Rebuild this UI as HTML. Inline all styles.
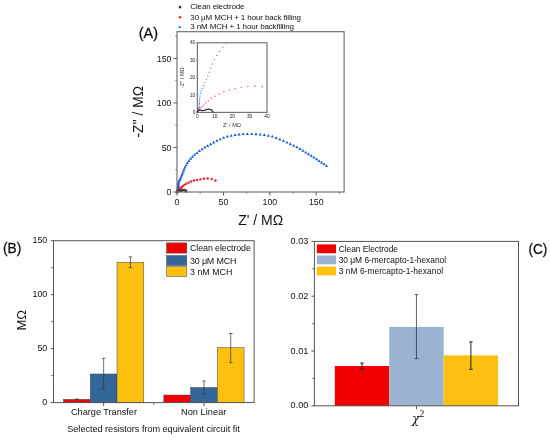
<!DOCTYPE html>
<html><head><meta charset="utf-8"><title>Figure</title>
<style>html,body{margin:0;padding:0;background:#fff}svg{display:block}</style></head>
<body>
<svg width="550" height="440" viewBox="0 0 550 440" font-family="&quot;Liberation Sans&quot;, sans-serif" fill="#111">
<rect width="550" height="440" fill="#fff"/>
<path d="M173.5 192H177.0M177 192.0V195.5" stroke="#555" stroke-width="1"/>
<text x="171.5" y="195.1" font-size="8.8" text-anchor="end">0</text>
<text x="177" y="205.0" font-size="8.8" text-anchor="middle">0</text>
<path d="M173.5 147.47H177.0M223.42 192.0V195.5" stroke="#555" stroke-width="1"/>
<text x="171.5" y="150.57" font-size="8.8" text-anchor="end">50</text>
<text x="223.42" y="205.0" font-size="8.8" text-anchor="middle">50</text>
<path d="M173.5 102.94H177.0M269.83 192.0V195.5" stroke="#555" stroke-width="1"/>
<text x="171.5" y="106.04" font-size="8.8" text-anchor="end">100</text>
<text x="269.83" y="205.0" font-size="8.8" text-anchor="middle">100</text>
<path d="M173.5 58.42H177.0M316.25 192.0V195.5" stroke="#555" stroke-width="1"/>
<text x="171.5" y="61.52" font-size="8.8" text-anchor="end">150</text>
<text x="316.25" y="205.0" font-size="8.8" text-anchor="middle">150</text>
<path d="M175.4 169.74H177.0M200.21 192.0V193.6" stroke="#777" stroke-width="1"/>
<path d="M175.4 125.21H177.0M246.62 192.0V193.6" stroke="#777" stroke-width="1"/>
<path d="M175.4 80.68H177.0M293.04 192.0V193.6" stroke="#777" stroke-width="1"/>
<path d="M175.4 36.15H177.0M339.46 192.0V193.6" stroke="#777" stroke-width="1"/>
<text x="260.7" y="225.3" font-size="14" text-anchor="middle">Z' / MΩ</text>
<text transform="translate(143.2 111.8) rotate(-90)" font-size="13.8" text-anchor="middle">-Z'' / MΩ</text>
<path d="M177 190.45L178.55 193.24H175.45Z" fill="#1d5cd9"/>
<path d="M177.1 190.17L178.65 192.96H175.55Z" fill="#1d5cd9"/>
<path d="M177.21 189.85L178.76 192.64H175.66Z" fill="#1d5cd9"/>
<path d="M177.33 189.51L178.88 192.3H175.78Z" fill="#1d5cd9"/>
<path d="M177.46 189.13L179.01 191.92H175.91Z" fill="#1d5cd9"/>
<path d="M177.62 188.72L179.17 191.51H176.07Z" fill="#1d5cd9"/>
<path d="M177.81 188.27L179.36 191.06H176.26Z" fill="#1d5cd9"/>
<path d="M177.95 187.77L179.5 190.56H176.4Z" fill="#1d5cd9"/>
<path d="M178.03 187.19L179.58 189.98H176.48Z" fill="#1d5cd9"/>
<path d="M178.08 186.55L179.63 189.34H176.53Z" fill="#1d5cd9"/>
<path d="M178.13 185.82L179.68 188.61H176.58Z" fill="#1d5cd9"/>
<path d="M178.18 185L179.73 187.79H176.63Z" fill="#1d5cd9"/>
<path d="M178.23 184.1L179.78 186.89H176.68Z" fill="#1d5cd9"/>
<path d="M178.29 183.09L179.84 185.88H176.74Z" fill="#1d5cd9"/>
<path d="M178.41 181.97L179.96 184.76H176.86Z" fill="#1d5cd9"/>
<path d="M178.64 180.73L180.19 183.52H177.09Z" fill="#1d5cd9"/>
<path d="M179.06 179.42L180.61 182.21H177.51Z" fill="#1d5cd9"/>
<path d="M179.75 178.13L181.3 180.92H178.2Z" fill="#1d5cd9"/>
<path d="M180.41 176.71L181.96 179.5H178.86Z" fill="#1d5cd9"/>
<path d="M181.11 175.17L182.66 177.96H179.56Z" fill="#1d5cd9"/>
<path d="M181.8 173.49L183.35 176.28H180.25Z" fill="#1d5cd9"/>
<path d="M182.62 171.73L184.17 174.52H181.07Z" fill="#1d5cd9"/>
<path d="M183.38 169.8L184.93 172.59H181.83Z" fill="#1d5cd9"/>
<path d="M184.1 167.73L185.65 170.52H182.55Z" fill="#1d5cd9"/>
<path d="M185.03 165.62L186.58 168.41H183.48Z" fill="#1d5cd9"/>
<path d="M186.1 163.45L187.65 166.24H184.55Z" fill="#1d5cd9"/>
<path d="M187.37 161.26L188.92 164.05H185.82Z" fill="#1d5cd9"/>
<path d="M188.97 159.16L190.52 161.95H187.42Z" fill="#1d5cd9"/>
<path d="M190.61 156.99L192.16 159.78H189.06Z" fill="#1d5cd9"/>
<path d="M192.5 154.92L194.05 157.71H190.95Z" fill="#1d5cd9"/>
<path d="M194.63 153L196.18 155.79H193.08Z" fill="#1d5cd9"/>
<path d="M196.96 151.13L198.51 153.92H195.41Z" fill="#1d5cd9"/>
<path d="M199.44 149.32L200.99 152.11H197.89Z" fill="#1d5cd9"/>
<path d="M202.03 147.54L203.58 150.33H200.48Z" fill="#1d5cd9"/>
<path d="M204.78 145.81L206.33 148.6H203.23Z" fill="#1d5cd9"/>
<path d="M207.66 144.1L209.21 146.89H206.11Z" fill="#1d5cd9"/>
<path d="M210.64 142.37L212.19 145.16H209.09Z" fill="#1d5cd9"/>
<path d="M213.72 140.64L215.27 143.43H212.17Z" fill="#1d5cd9"/>
<path d="M216.92 138.98L218.47 141.77H215.37Z" fill="#1d5cd9"/>
<path d="M220.24 137.39L221.79 140.18H218.69Z" fill="#1d5cd9"/>
<path d="M223.69 135.89L225.24 138.68H222.14Z" fill="#1d5cd9"/>
<path d="M227.31 134.77L228.86 137.56H225.76Z" fill="#1d5cd9"/>
<path d="M231.13 133.97L232.68 136.76H229.58Z" fill="#1d5cd9"/>
<path d="M235.07 133.31L236.62 136.1H233.52Z" fill="#1d5cd9"/>
<path d="M239.08 132.6L240.63 135.39H237.53Z" fill="#1d5cd9"/>
<path d="M243.19 132.21L244.74 135H241.64Z" fill="#1d5cd9"/>
<path d="M247.4 132.21L248.95 135H245.85Z" fill="#1d5cd9"/>
<path d="M251.7 132.21L253.25 135H250.15Z" fill="#1d5cd9"/>
<path d="M255.96 132.34L257.51 135.13H254.41Z" fill="#1d5cd9"/>
<path d="M260.19 132.72L261.74 135.51H258.64Z" fill="#1d5cd9"/>
<path d="M264.35 133.26L265.9 136.05H262.8Z" fill="#1d5cd9"/>
<path d="M268.41 133.92L269.96 136.71H266.86Z" fill="#1d5cd9"/>
<path d="M272.33 134.8L273.88 137.59H270.78Z" fill="#1d5cd9"/>
<path d="M276.13 136.25L277.68 139.04H274.58Z" fill="#1d5cd9"/>
<path d="M279.85 137.83L281.4 140.62H278.3Z" fill="#1d5cd9"/>
<path d="M283.48 139.3L285.03 142.09H281.93Z" fill="#1d5cd9"/>
<path d="M287.01 140.81L288.56 143.6H285.46Z" fill="#1d5cd9"/>
<path d="M290.42 142.34L291.97 145.13H288.87Z" fill="#1d5cd9"/>
<path d="M293.72 143.9L295.27 146.69H292.17Z" fill="#1d5cd9"/>
<path d="M296.88 145.55L298.43 148.34H295.33Z" fill="#1d5cd9"/>
<path d="M299.93 147.23L301.48 150.02H298.38Z" fill="#1d5cd9"/>
<path d="M302.87 148.94L304.42 151.73H301.32Z" fill="#1d5cd9"/>
<path d="M305.73 150.65L307.28 153.44H304.18Z" fill="#1d5cd9"/>
<path d="M308.51 152.36L310.06 155.15H306.96Z" fill="#1d5cd9"/>
<path d="M311.25 154.07L312.8 156.86H309.7Z" fill="#1d5cd9"/>
<path d="M313.93 155.76L315.48 158.55H312.38Z" fill="#1d5cd9"/>
<path d="M316.55 157.46L318.1 160.25H315Z" fill="#1d5cd9"/>
<path d="M319.13 159.15L320.68 161.94H317.58Z" fill="#1d5cd9"/>
<path d="M321.65 160.85L323.2 163.64H320.1Z" fill="#1d5cd9"/>
<path d="M324.12 162.55L325.67 165.34H322.57Z" fill="#1d5cd9"/>
<path d="M326.54 164.25L328.09 167.04H324.99Z" fill="#1d5cd9"/>
<circle cx="177" cy="192" r="1.2" fill="#ee1c2c"/>
<circle cx="177.16" cy="191.63" r="1.2" fill="#ee1c2c"/>
<circle cx="177.4" cy="191.21" r="1.2" fill="#ee1c2c"/>
<circle cx="177.75" cy="190.77" r="1.2" fill="#ee1c2c"/>
<circle cx="178.27" cy="190.31" r="1.2" fill="#ee1c2c"/>
<circle cx="178.89" cy="189.74" r="1.2" fill="#ee1c2c"/>
<circle cx="179.6" cy="189.05" r="1.2" fill="#ee1c2c"/>
<circle cx="180.47" cy="188.23" r="1.2" fill="#ee1c2c"/>
<circle cx="181.52" cy="187.26" r="1.2" fill="#ee1c2c"/>
<circle cx="182.79" cy="186.1" r="1.2" fill="#ee1c2c"/>
<circle cx="184.38" cy="184.83" r="1.2" fill="#ee1c2c"/>
<circle cx="186.38" cy="183.75" r="1.2" fill="#ee1c2c"/>
<circle cx="188.65" cy="182.64" r="1.2" fill="#ee1c2c"/>
<circle cx="191.16" cy="181.41" r="1.2" fill="#ee1c2c"/>
<circle cx="194.02" cy="180.56" r="1.2" fill="#ee1c2c"/>
<circle cx="197.12" cy="179.92" r="1.2" fill="#ee1c2c"/>
<circle cx="200.41" cy="179.33" r="1.2" fill="#ee1c2c"/>
<circle cx="203.92" cy="178.82" r="1.2" fill="#ee1c2c"/>
<circle cx="207.67" cy="178.56" r="1.2" fill="#ee1c2c"/>
<circle cx="211.64" cy="178.91" r="1.2" fill="#ee1c2c"/>
<circle cx="215.39" cy="180.57" r="1.2" fill="#ee1c2c"/>
<rect x="176.7" y="190.5" width="2" height="2" fill="#454545"/>
<rect x="176.83" y="190.15" width="2" height="2" fill="#454545"/>
<rect x="177.01" y="189.85" width="2" height="2" fill="#454545"/>
<rect x="177.23" y="189.65" width="2" height="2" fill="#454545"/>
<rect x="177.52" y="189.49" width="2" height="2" fill="#454545"/>
<rect x="177.87" y="189.37" width="2" height="2" fill="#454545"/>
<rect x="178.2" y="189.35" width="2" height="2" fill="#454545"/>
<rect x="178.53" y="189.41" width="2" height="2" fill="#454545"/>
<rect x="178.87" y="189.5" width="2" height="2" fill="#454545"/>
<rect x="179.2" y="189.58" width="2" height="2" fill="#454545"/>
<rect x="179.54" y="189.61" width="2" height="2" fill="#454545"/>
<rect x="179.87" y="189.58" width="2" height="2" fill="#454545"/>
<rect x="180.21" y="189.51" width="2" height="2" fill="#454545"/>
<rect x="180.54" y="189.42" width="2" height="2" fill="#454545"/>
<rect x="180.87" y="189.34" width="2" height="2" fill="#454545"/>
<rect x="181.2" y="189.26" width="2" height="2" fill="#454545"/>
<rect x="181.53" y="189.16" width="2" height="2" fill="#454545"/>
<rect x="181.86" y="189.05" width="2" height="2" fill="#454545"/>
<rect x="182.19" y="188.97" width="2" height="2" fill="#454545"/>
<rect x="182.52" y="188.91" width="2" height="2" fill="#454545"/>
<rect x="182.85" y="188.9" width="2" height="2" fill="#454545"/>
<rect x="183.2" y="188.95" width="2" height="2" fill="#454545"/>
<rect x="183.54" y="189.03" width="2" height="2" fill="#454545"/>
<rect x="183.87" y="189.14" width="2" height="2" fill="#454545"/>
<rect x="184.16" y="189.27" width="2" height="2" fill="#454545"/>
<rect x="184.41" y="189.46" width="2" height="2" fill="#454545"/>
<rect x="184.63" y="189.72" width="2" height="2" fill="#454545"/>
<rect x="184.86" y="190.01" width="2" height="2" fill="#454545"/>
<rect x="185.09" y="190.27" width="2" height="2" fill="#454545"/>
<rect x="185.33" y="190.5" width="2" height="2" fill="#454545"/>
<rect x="177.0" y="31.7" width="167.1" height="160.3" fill="none" stroke="#686868" stroke-width="1.1"/>
<rect x="197.3" y="42.8" width="69.7" height="69.5" fill="#fff" stroke="#4a4a4a" stroke-width="0.9"/>
<path d="M195.8 112.3H197.3M197.3 112.3V113.8" stroke="#666" stroke-width="0.6"/>
<text x="195.3" y="113.9" font-size="4.8" text-anchor="end" fill="#222">0</text>
<text x="197.3" y="117.89999999999999" font-size="4.8" text-anchor="middle" fill="#222">0</text>
<path d="M195.8 94.92H197.3M214.73 112.3V113.8" stroke="#666" stroke-width="0.6"/>
<text x="195.3" y="96.52" font-size="4.8" text-anchor="end" fill="#222">10</text>
<text x="214.73" y="117.89999999999999" font-size="4.8" text-anchor="middle" fill="#222">10</text>
<path d="M195.8 77.55H197.3M232.15 112.3V113.8" stroke="#666" stroke-width="0.6"/>
<text x="195.3" y="79.15" font-size="4.8" text-anchor="end" fill="#222">20</text>
<text x="232.15" y="117.89999999999999" font-size="4.8" text-anchor="middle" fill="#222">20</text>
<path d="M195.8 60.17H197.3M249.57 112.3V113.8" stroke="#666" stroke-width="0.6"/>
<text x="195.3" y="61.77" font-size="4.8" text-anchor="end" fill="#222">30</text>
<text x="249.57" y="117.89999999999999" font-size="4.8" text-anchor="middle" fill="#222">30</text>
<path d="M195.8 42.8H197.3M267 112.3V113.8" stroke="#666" stroke-width="0.6"/>
<text x="195.3" y="44.4" font-size="4.8" text-anchor="end" fill="#222">40</text>
<text x="267" y="117.89999999999999" font-size="4.8" text-anchor="middle" fill="#222">40</text>
<text x="232" y="126.5" font-size="5.6" text-anchor="middle" fill="#333">Z' / MΩ</text>
<text transform="translate(184.0 77.7) rotate(-90)" font-size="5.6" text-anchor="middle" fill="#333">-Z'' / MΩ</text>
<path d="M197.3 111.5L198.1 112.94H196.5Z" fill="#2f7be6"/>
<path d="M197.48 110.95L198.28 112.39H196.68Z" fill="#2f7be6"/>
<path d="M197.69 110.34L198.49 111.78H196.89Z" fill="#2f7be6"/>
<path d="M197.91 109.67L198.71 111.11H197.11Z" fill="#2f7be6"/>
<path d="M198.16 108.93L198.96 110.37H197.36Z" fill="#2f7be6"/>
<path d="M198.46 108.13L199.26 109.57H197.66Z" fill="#2f7be6"/>
<path d="M198.81 107.25L199.61 108.69H198.01Z" fill="#2f7be6"/>
<path d="M199.09 106.26L199.89 107.7H198.29Z" fill="#2f7be6"/>
<path d="M199.22 105.15L200.02 106.59H198.42Z" fill="#2f7be6"/>
<path d="M199.33 103.88L200.13 105.32H198.53Z" fill="#2f7be6"/>
<path d="M199.42 102.46L200.22 103.9H198.62Z" fill="#2f7be6"/>
<path d="M199.51 100.88L200.31 102.32H198.71Z" fill="#2f7be6"/>
<path d="M199.6 99.11L200.4 100.55H198.8Z" fill="#2f7be6"/>
<path d="M199.73 97.14L200.53 98.58H198.93Z" fill="#2f7be6"/>
<path d="M199.95 94.95L200.75 96.39H199.15Z" fill="#2f7be6"/>
<path d="M200.39 92.53L201.19 93.97H199.59Z" fill="#2f7be6"/>
<path d="M201.17 89.98L201.97 91.42H200.37Z" fill="#2f7be6"/>
<path d="M202.46 87.46L203.26 88.9H201.66Z" fill="#2f7be6"/>
<path d="M203.71 84.69L204.51 86.13H202.91Z" fill="#2f7be6"/>
<path d="M205.01 81.68L205.81 83.12H204.21Z" fill="#2f7be6"/>
<path d="M206.3 78.41L207.1 79.85H205.5Z" fill="#2f7be6"/>
<path d="M207.84 74.98L208.64 76.42H207.04Z" fill="#2f7be6"/>
<path d="M209.27 71.21L210.07 72.65H208.47Z" fill="#2f7be6"/>
<path d="M210.62 67.17L211.42 68.61H209.82Z" fill="#2f7be6"/>
<path d="M212.37 63.06L213.17 64.5H211.57Z" fill="#2f7be6"/>
<path d="M214.37 58.82L215.17 60.26H213.57Z" fill="#2f7be6"/>
<path d="M216.77 54.55L217.57 55.99H215.97Z" fill="#2f7be6"/>
<path d="M219.78 50.45L220.58 51.89H218.98Z" fill="#2f7be6"/>
<path d="M222.84 46.21L223.64 47.65H222.04Z" fill="#2f7be6"/>
<path d="M226.4 42.18L227.2 43.62H225.6Z" fill="#2f7be6"/>
<circle cx="197.3" cy="112.3" r="0.7" fill="#ee4a55"/>
<circle cx="197.6" cy="111.57" r="0.7" fill="#ee4a55"/>
<circle cx="198.04" cy="110.76" r="0.7" fill="#ee4a55"/>
<circle cx="198.71" cy="109.91" r="0.7" fill="#ee4a55"/>
<circle cx="199.68" cy="109" r="0.7" fill="#ee4a55"/>
<circle cx="200.84" cy="107.9" r="0.7" fill="#ee4a55"/>
<circle cx="202.19" cy="106.55" r="0.7" fill="#ee4a55"/>
<circle cx="203.81" cy="104.94" r="0.7" fill="#ee4a55"/>
<circle cx="205.79" cy="103.04" r="0.7" fill="#ee4a55"/>
<circle cx="208.17" cy="100.78" r="0.7" fill="#ee4a55"/>
<circle cx="211.15" cy="98.31" r="0.7" fill="#ee4a55"/>
<circle cx="214.9" cy="96.2" r="0.7" fill="#ee4a55"/>
<circle cx="219.17" cy="94.04" r="0.7" fill="#ee4a55"/>
<circle cx="223.89" cy="91.63" r="0.7" fill="#ee4a55"/>
<circle cx="229.25" cy="89.99" r="0.7" fill="#ee4a55"/>
<circle cx="235.06" cy="88.74" r="0.7" fill="#ee4a55"/>
<circle cx="241.24" cy="87.58" r="0.7" fill="#ee4a55"/>
<circle cx="247.83" cy="86.59" r="0.7" fill="#ee4a55"/>
<circle cx="254.86" cy="86.07" r="0.7" fill="#ee4a55"/>
<circle cx="262.31" cy="86.76" r="0.7" fill="#ee4a55"/>
<path d="M197.3 112.3 L197.47 111.78 L197.7 111.31 L197.97 110.93 L198.28 110.65 L198.68 110.41 L199.14 110.2 L199.63 110.07 L200.09 110.05 L200.55 110.12 L201.01 110.24 L201.48 110.38 L201.95 110.5 L202.42 110.56 L202.88 110.55 L203.35 110.48 L203.82 110.38 L204.28 110.26 L204.75 110.14 L205.21 110.03 L205.67 109.9 L206.13 109.76 L206.59 109.61 L207.05 109.46 L207.51 109.33 L207.97 109.23 L208.43 109.18 L208.9 109.18 L209.38 109.25 L209.86 109.35 L210.33 109.5 L210.78 109.67 L211.19 109.85 L211.56 110.08 L211.89 110.41 L212.2 110.8 L212.51 111.21 L212.83 111.61 L213.16 111.96 L213.51 112.3" fill="none" stroke="#222" stroke-width="1.2"/>
<rect x="178.8" y="5.9" width="2.4" height="2.4" fill="#333"/>
<circle cx="180" cy="17.2" r="1.3" fill="#e8202a"/>
<path d="M179.7 25.6L181.1 28.12H178.3Z" fill="#1d5cd9"/>
<text x="190.3" y="9.3" font-size="8" textLength="54.2">Clean electrode</text>
<text x="190.3" y="20" font-size="8" textLength="110.7">30 μM MCH + 1 hour back filling</text>
<text x="190.3" y="29.1" font-size="8" textLength="103.6">3 nM MCH + 1 hour backfilling</text>
<text x="138.8" y="37.5" font-size="15.3" textLength="19.2" lengthAdjust="spacingAndGlyphs" stroke="#111" stroke-width="0.3">(A)</text>
<path d="M50.7 402.6H53.5" stroke="#555" stroke-width="1"/>
<text x="47.3" y="405.2" font-size="8.9" text-anchor="end">0</text>
<path d="M50.7 348.63H53.5" stroke="#555" stroke-width="1"/>
<text x="47.3" y="351.23" font-size="8.9" text-anchor="end">50</text>
<path d="M50.7 294.67H53.5" stroke="#555" stroke-width="1"/>
<text x="47.3" y="297.27" font-size="8.9" text-anchor="end">100</text>
<path d="M50.7 240.7H53.5" stroke="#555" stroke-width="1"/>
<text x="47.3" y="243.3" font-size="8.9" text-anchor="end">150</text>
<path d="M51.5 375.62H53.5" stroke="#555" stroke-width="1"/>
<path d="M51.5 321.65H53.5" stroke="#555" stroke-width="1"/>
<path d="M51.5 267.68H53.5" stroke="#555" stroke-width="1"/>
<path d="M103.65 402.6V406.1" stroke="#555" stroke-width="1"/>
<rect x="63.53" y="399.36" width="26.75" height="3.24" fill="#f00000" stroke="#444" stroke-width="0.5"/>
<path d="M76.9 399.69V399.04M75.1 399.69h3.6M75.1 399.04h3.6" stroke="#333" stroke-width="0.7" fill="none"/>
<rect x="90.28" y="374" width="26.75" height="28.6" fill="#336699" stroke="#444" stroke-width="0.5"/>
<path d="M103.65 389.11V358.35M101.85 389.11h3.6M101.85 358.35h3.6" stroke="#333" stroke-width="0.7" fill="none"/>
<rect x="117.02" y="262.29" width="26.75" height="140.31" fill="#fcc010" stroke="#444" stroke-width="0.5"/>
<path d="M130.4 267.68V256.89M128.6 267.68h3.6M128.6 256.89h3.6" stroke="#333" stroke-width="0.7" fill="none"/>
<path d="M203.95 402.6V406.1" stroke="#555" stroke-width="1"/>
<rect x="163.83" y="395.04" width="26.75" height="7.56" fill="#f00000" stroke="#444" stroke-width="0.5"/>
<rect x="190.58" y="387.49" width="26.75" height="15.11" fill="#336699" stroke="#444" stroke-width="0.5"/>
<path d="M203.95 393.97V381.01M202.15 393.97h3.6M202.15 381.01h3.6" stroke="#333" stroke-width="0.7" fill="none"/>
<rect x="217.32" y="347.55" width="26.75" height="55.05" fill="#fcc010" stroke="#444" stroke-width="0.5"/>
<path d="M230.7 362.66V333.52M228.9 362.66h3.6M228.9 333.52h3.6" stroke="#333" stroke-width="0.7" fill="none"/>
<path d="M153.8 402.6v2" stroke="#555" stroke-width="1"/>
<rect x="53.5" y="240.7" width="200.6" height="161.9" fill="none" stroke="#555" stroke-width="1"/>
<text x="104" y="415.2" font-size="9.2" text-anchor="middle" textLength="66">Charge Transfer</text>
<text x="203.7" y="415.2" font-size="9.2" text-anchor="middle" textLength="45.4">Non Linear</text>
<text x="153.5" y="432.2" font-size="9.1" text-anchor="middle" textLength="172.5">Selected resistors from equivalent circuit fit</text>
<text transform="translate(26.2 320.2) rotate(-90)" font-size="13" text-anchor="middle">MΩ</text>
<text x="2.9" y="253.3" font-size="15.3" textLength="18.4" lengthAdjust="spacingAndGlyphs" stroke="#111" stroke-width="0.3">(B)</text>
<rect x="166.6" y="242.9" width="20.2" height="10.2" fill="#f00000" stroke="#444" stroke-width="0.5"/>
<text x="190" y="251.3" font-size="8.9" textLength="60.9">Clean electrode</text>
<rect x="166.6" y="255.6" width="20.2" height="9.8" fill="#336699" stroke="#444" stroke-width="0.5"/>
<text x="190" y="263.8" font-size="8.9" textLength="46.4">30 μM MCH</text>
<rect x="166.6" y="266.6" width="20.2" height="9.8" fill="#fcc010" stroke="#444" stroke-width="0.5"/>
<text x="190" y="274.8" font-size="8.9" textLength="42.4">3 nM MCH</text>
<path d="M311.4 405.8H314.4" stroke="#555" stroke-width="1"/>
<text x="308.29999999999995" y="408.4" font-size="9.1" text-anchor="end">0.00</text>
<path d="M311.4 351H314.4" stroke="#555" stroke-width="1"/>
<text x="308.29999999999995" y="353.6" font-size="9.1" text-anchor="end">0.01</text>
<path d="M311.4 296.2H314.4" stroke="#555" stroke-width="1"/>
<text x="308.29999999999995" y="298.8" font-size="9.1" text-anchor="end">0.02</text>
<path d="M311.4 241.4H314.4" stroke="#555" stroke-width="1"/>
<text x="308.29999999999995" y="244" font-size="9.1" text-anchor="end">0.03</text>
<path d="M312.4 378.4H314.4" stroke="#555" stroke-width="1"/>
<path d="M312.4 323.6H314.4" stroke="#555" stroke-width="1"/>
<path d="M312.4 268.8H314.4" stroke="#555" stroke-width="1"/>
<path d="M416.45 405.8V409.3" stroke="#555" stroke-width="1"/>
<rect x="334.81" y="365.96" width="54.43" height="39.84" fill="#f00000"/>
<path d="M362.02 369.08V363.06M360.22 369.08h3.6M360.22 363.06h3.6" stroke="#222" stroke-width="1" fill="none"/>
<rect x="389.24" y="326.89" width="54.43" height="78.91" fill="#99b3d0"/>
<path d="M416.45 358.67V294.56M414.65 358.67h3.6M414.65 294.56h3.6" stroke="#222" stroke-width="0.7" fill="none"/>
<rect x="443.66" y="355.38" width="54.43" height="50.42" fill="#fcc010"/>
<path d="M470.88 369.36V341.9M469.08 369.36h3.6M469.08 341.9h3.6" stroke="#222" stroke-width="1" fill="none"/>
<rect x="314.4" y="241.4" width="204.1" height="164.4" fill="none" stroke="#555" stroke-width="1"/>
<rect x="316.8" y="244.4" width="19.2" height="8.8" fill="#f00000"/>
<text x="338.7" y="251.8" font-size="8.4" textLength="59.3">Clean Electrode</text>
<rect x="316.8" y="255.5" width="19.2" height="8.8" fill="#99b3d0"/>
<text x="338.7" y="262.9" font-size="8.4" textLength="107.4">30 μM 6-mercapto-1-hexanol</text>
<rect x="316.8" y="266.6" width="19.2" height="8.8" fill="#fcc010"/>
<text x="338.7" y="274" font-size="8.4" textLength="104.3">3 nM 6-mercapto-1-hexanol</text>
<text x="528.5" y="254" font-size="15.3" textLength="18.8" lengthAdjust="spacingAndGlyphs" stroke="#111" stroke-width="0.3">(C)</text>
<text x="412" y="423" font-size="12" font-style="italic" font-family="&quot;DejaVu Serif&quot;, &quot;Liberation Serif&quot;, serif">χ</text>
<text x="419.5" y="416.6" font-size="9.6" font-family="&quot;Liberation Serif&quot;, serif">2</text>
</svg>
</body></html>
